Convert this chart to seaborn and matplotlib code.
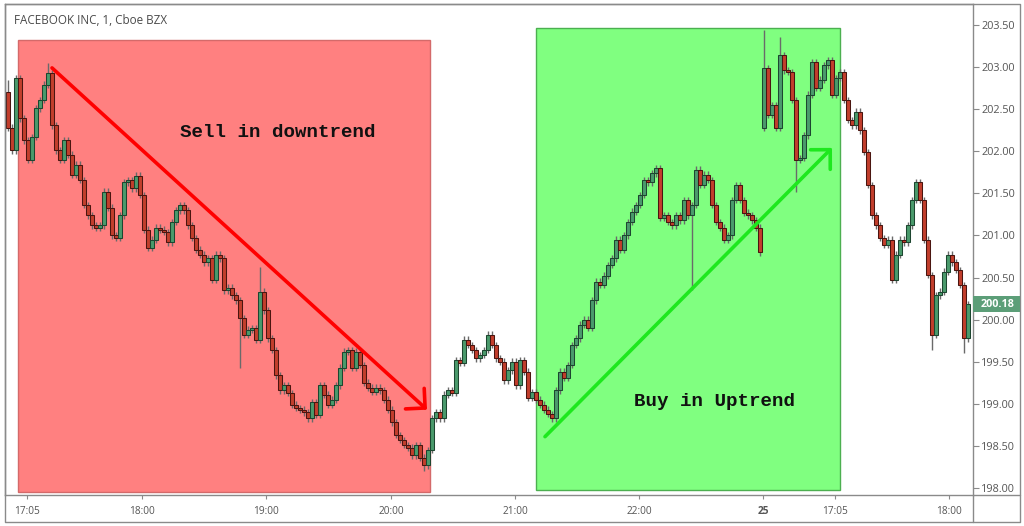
import matplotlib
matplotlib.use("Agg")
import matplotlib.pyplot as plt
import seaborn as sns
import pandas as pd
from matplotlib.patches import Rectangle
from matplotlib.lines import Line2D

# ---------------- data ----------------
title = "FACEBOOK INC, 1, Cboe BZX"
first_open = 202.70
closes = [
    202.28, 202.01, 202.87, 202.39, 202.13, 201.90, 202.17, 202.51, 202.61, 202.79,
    202.93, 202.31, 202.01, 201.90, 202.13, 201.96, 201.72, 201.84, 201.66, 201.36,
    201.24, 201.12, 201.09, 201.12, 201.52, 201.33, 201.00, 200.97, 201.24, 201.63,
    201.66, 201.56, 201.71, 201.48, 201.07, 200.85, 200.95, 201.09, 201.07, 201.04,
    200.92, 201.16, 201.30, 201.36, 201.30, 201.12, 200.97, 200.83, 200.77, 200.68,
    200.73, 200.47, 200.77, 200.73, 200.35, 200.38, 200.29, 200.23, 200.02, 199.82,
    199.88, 199.90, 199.76, 200.33, 200.11, 199.78, 199.64, 199.34, 199.16, 199.22,
    199.13, 198.99, 198.95, 198.93, 198.90, 198.83, 199.02, 198.87, 199.22, 199.11,
    198.99, 199.05, 199.22, 199.43, 199.62, 199.64, 199.43, 199.62, 199.46, 199.25,
    199.19, 199.14, 199.19, 199.16, 199.05, 198.93, 198.78, 198.63, 198.57, 198.51,
    198.48, 198.39, 198.51, 198.36, 198.27, 198.45, 198.83, 198.90, 198.83, 199.11,
    199.16, 199.13, 199.52, 199.49, 199.76, 199.70, 199.64, 199.54, 199.58, 199.64,
    199.82, 199.70, 199.54, 199.50, 199.28, 199.40, 199.50, 199.22, 199.52, 199.38,
    199.07, 199.14, 199.05, 198.99, 198.93, 198.88, 198.83, 199.16, 199.38, 199.31,
    199.46, 199.70, 199.78, 199.94, 200.00, 199.90, 200.23, 200.45, 200.41, 200.52,
    200.65, 200.73, 200.95, 200.83, 201.00, 201.16, 201.28, 201.36, 201.48, 201.66,
    201.63, 201.74, 201.80, 201.21, 201.24, 201.16, 201.12, 201.24, 201.18, 201.42,
    201.24, 201.36, 201.78, 201.60, 201.72, 201.66, 201.36, 201.16, 201.09, 200.95,
    201.00, 201.42, 201.60, 201.42, 201.27, 201.24, 201.18, 201.09, 200.80, 202.99,
    202.43, 202.55, 202.28, 203.14, 202.96, 202.94, 202.61, 201.90, 201.92, 202.19,
    202.67, 203.06, 202.75, 202.85, 203.02, 203.08, 202.67, 202.87, 202.94, 202.61,
    202.37, 202.31, 202.47, 202.25, 201.99, 201.60, 201.24, 201.12, 200.97, 200.89,
    200.95, 200.47, 200.77, 200.95, 200.92, 201.12, 201.42, 201.63, 201.42, 200.95,
    200.53, 199.82, 200.29, 200.33, 200.57, 200.77, 200.68, 200.59, 200.41, 199.78,
    200.18,
]
gap_opens = {189: 202.28}
high_spikes = {0: 202.85, 10: 203.05, 63: 200.62, 189: 203.44, 193: 203.36}
low_spikes = {58: 199.43, 171: 200.35, 197: 201.52, 231: 199.64, 239: 199.60, 104: 198.20}

tick_labels = ["17:05", "18:00", "19:00", "20:00", "21:00", "22:00", "25", "17:05", "18:00"]
tick_bars = [4.75, 33.5, 64.5, 95.75, 126.75, 157.75, 188.75, 206.75, 235.25]
price_ticks = [198.0, 198.5, 199.0, 199.5, 200.0, 200.5, 201.0, 201.5, 202.0, 202.5, 203.0, 203.5]
last_price = 200.18

# ---------------- frame ----------------
n = len(closes)
opens = [first_open] + closes[:-1]
for k, v in gap_opens.items():
    opens[k] = v
df = pd.DataFrame({"bar": range(n), "open": opens, "close": closes})
WICK = 0.04
df["high"] = df[["open", "close"]].max(axis=1) + WICK
df["low"] = df[["open", "close"]].min(axis=1) - WICK
for k, v in high_spikes.items():
    df.loc[k, "high"] = max(df.loc[k, "high"], v)
for k, v in low_spikes.items():
    df.loc[k, "low"] = min(df.loc[k, "low"], v)
df["up"] = df["close"] >= df["open"]
df["bottom"] = df[["open", "close"]].min(axis=1)
df["height"] = (df["close"] - df["open"]).abs().clip(lower=0.015)

sns.set_theme(style="white")
plt.rcParams["font.family"] = ["Open Sans", "DejaVu Sans"]

W, H = 1024, 526
fig = plt.figure(figsize=(W / 100, H / 100), dpi=100)
L, T, R, B = 5, 4, 973, 495
ax = fig.add_axes([L / W, 1 - B / H, (R - L) / W, (B - T) / H])
ax.set_xlim(-0.75, 241.25)
ax.set_ylim(197.917, 203.749)

# highlight boxes
ax.add_patch(Rectangle((2.5, 197.95), 103, 5.37, facecolor="#ff8080",
                       edgecolor="#d46a6a", lw=1, zorder=0.5))
ax.add_patch(Rectangle((132, 197.975), 76, 5.485, facecolor="#80ff80",
                       edgecolor="#4caf50", lw=1, zorder=0.5))

# candles
ax.vlines(df["bar"], df["low"], df["high"], color="#6a6a6a", lw=1.0, zorder=2)
fills = ["#4a9a6c" if u else "#c23e2c" for u in df["up"]]
edges = ["#1d4630" if u else "#4a1510" for u in df["up"]]
ax.bar(df["bar"], df["height"], bottom=df["bottom"], width=0.9,
       color=fills, edgecolor=edges, linewidth=0.75, zorder=3)

# arrows
ax.annotate("", xy=(104.75, 198.93), xytext=(11, 202.99),
            arrowprops=dict(arrowstyle="->,head_length=1.0,head_width=1.0",
                            color="#ff0000", lw=2.6, shrinkA=0, shrinkB=0,
                            mutation_scale=10), zorder=5)
ax.annotate("", xy=(206, 202.04), xytext=(134.25, 198.61),
            arrowprops=dict(arrowstyle="->,head_length=1.0,head_width=1.0",
                            color="#1ee81e", lw=2.6, shrinkA=0, shrinkB=0,
                            mutation_scale=10), zorder=5)

ax.text(67.5, 202.217, "Sell in downtrend", family="Liberation Mono",
        fontsize=13.8, fontweight="bold", ha="center", va="center",
        color="#111111", zorder=6)
ax.text(176.75, 199.03, "Buy in Uptrend", family="Liberation Mono",
        fontsize=13.8, fontweight="bold", ha="center", va="center",
        color="#111111", zorder=6)

# axes styling
for s in ax.spines.values():
    s.set_color("#8a8a8a")
    s.set_linewidth(1)
ax.yaxis.tick_right()
ax.set_yticks(price_ticks)
ax.set_yticklabels([f"{p:.2f}" for p in price_ticks])
ax.set_xticks(tick_bars)
ax.set_xticklabels(tick_labels)
ax.tick_params(axis="y", direction="out", length=4, width=0.8, color="#8a8a8a",
               labelsize=7.8, labelcolor="#555555", pad=2, right=True, left=False)
ax.tick_params(axis="x", direction="out", length=3, width=0.8, color="#8a8a8a",
               labelsize=7.3, labelcolor="#555555", pad=5, bottom=True)
for lab in ax.get_xticklabels():
    if lab.get_text() == "25":
        lab.set_fontweight("bold")
ax.grid(False)

# title
fig.text(14 / W, 1 - 20 / H, title, ha="left", va="center", fontsize=8.4,
         color="#4a4a4a")

# outer frame and axis separators
def px_line(xs, ys):
    fig.add_artist(Line2D([x / W for x in xs], [1 - y / H for y in ys],
                          transform=fig.transFigure, color="#8a8a8a", lw=1))

px_line([5, 1020, 1020, 5, 5], [4, 4, 522, 522, 4])
px_line([R, R], [B, 522])
px_line([R, 1020], [B, B])

# last price tag
yp = ax.transData.transform((0, last_price))[1]
yp_px = H - yp
fig.add_artist(Rectangle((R / W, 1 - (yp_px + 8) / H), (1020 - R) / W, 16 / H,
                         transform=fig.transFigure, facecolor="#5c9e78",
                         edgecolor="none", zorder=5))
fig.text((R + 8) / W, 1 - yp_px / H, f"{last_price:.2f}", ha="left", va="center",
         fontsize=7.8, color="white", fontweight="bold", zorder=6)

fig.savefig("out.png", dpi=100)
